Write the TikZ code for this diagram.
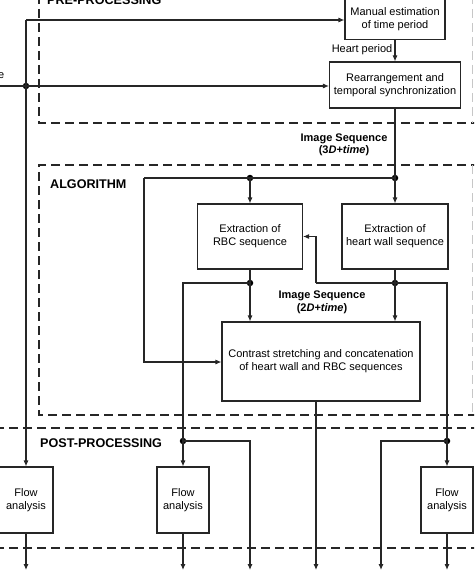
\documentclass[tikz,border=0pt]{standalone}
\usepackage{fontspec}
\setmainfont{Liberation Sans}
\usetikzlibrary{arrows.meta,calc}
\begin{document}
\begin{tikzpicture}[x=1pt,y=-1pt,
  box/.style={draw=black!85, line width=1.05pt, inner sep=0pt, align=center, font=\fontsize{11}{13}\selectfont},
  lbl/.style={inner sep=0pt, align=center, font=\fontsize{11}{12.5}\selectfont\bfseries},
  txt/.style={inner sep=0pt, font=\fontsize{11}{13}\selectfont},
  hdr/.style={inner sep=0pt, anchor=west, font=\fontsize{12.6}{14}\selectfont\bfseries},
  wire/.style={draw=black!85, line width=1.05pt},
  arr/.style={wire, -{Latex[length=6pt,width=5pt]}},
  zone/.style={draw=black!85, line width=1.3pt, dash pattern=on 9pt off 5pt},
  faint/.style={draw=black!22, line width=1pt, dash pattern=on 9pt off 5pt},
  jdot/.style={circle, fill=black, inner sep=0pt, minimum width=5.5pt, minimum height=6.5pt}
]
\useasboundingbox (0,0) rectangle (474,572);
\clip (0,0) rectangle (474,572);

% dashed zones
\draw[zone] (39,-5) -- (39,123) -- (480,123);
\draw[zone] (480,165) -- (39,165) -- (39,415) -- (480,415);
\draw[zone] (-5,428) -- (480,428);
\draw[zone] (-5,548) -- (480,548);
\draw[faint] (472.5,-5) -- (472.5,123);
\draw[faint] (472.5,165) -- (472.5,415);

% headers
\node[hdr] (pre) at (47,0) {PRE-PROCESSING};
\node[hdr] (alg) at (50,184) {ALGORITHM};
\node[hdr] (post) at (40,443.5) {POST-PROCESSING};

% boxes
\node[box, minimum width=100, minimum height=41] (manual) at (395,19) {Manual estimation\\of time period};
\node[box, minimum width=131, minimum height=46] (rearr) at (395,85) {Rearrangement and\\temporal synchronization};
\node[box, minimum width=105, minimum height=65] (rbc) at (250,236.5) {Extraction of\\RBC sequence};
\node[box, minimum width=106, minimum height=65] (heart) at (395,236.5) {Extraction of\\heart wall sequence};
\node[box, minimum width=198, minimum height=79] (contrast) at (321,361.5) {Contrast stretching and concatenation\\of heart wall and RBC sequences};
\node[box, minimum width=54, minimum height=66] (flow1) at (26,500) {Flow\\analysis};
\node[box, minimum width=52, minimum height=66] (flow2) at (183,500) {Flow\\analysis};
\node[box, minimum width=52, minimum height=66] (flow3) at (447,500) {Flow\\analysis};

% labels
\node[lbl] (seq3) at (344,145) {Image Sequence\\(3\textit{D}+\textit{time})};
\node[lbl] (seq2) at (322,302.5) {Image Sequence\\(2\textit{D}+\textit{time})};
\node[txt, anchor=east] (hp) at (392.5,50) {Heart period};
\node[txt, anchor=east] (ein) at (4.5,76) {e};

% coordinates
\coordinate (cTL) at (26,20);
\coordinate (cIn) at (-5,86);
\coordinate (c144t) at (144,178);
\coordinate (c144b) at (144,362);
\coordinate (c183) at (183,283);
\coordinate (c316) at (316,283);
\coordinate (c447) at (447,283);
\coordinate (c250b) at (250,441);
\coordinate (c381) at (381,441);
\coordinate (b26) at (26,570);
\coordinate (b250) at (250,570);
\coordinate (b316) at (316,570);
\coordinate (b381) at (381,570);

% junctions
\node[jdot] (jA) at (26,86) {};
\node[jdot] (jB) at (250,178) {};
\node[jdot] (jC) at (395,178) {};
\node[jdot] (jD) at (250,283) {};
\node[jdot] (jE) at (395,283) {};
\node[jdot] (jF) at (183,441) {};
\node[jdot] (jG) at (447,441) {};

% connectors
\draw[arr] (cTL) -- (cTL -| manual.west);
\draw[arr] (cTL) -- (cTL |- flow1.north);
\draw[arr] (cIn) -- (cIn -| rearr.west);
\draw[arr] (manual.south) -- (rearr.north);
\draw[wire] (rearr.south) -- (jC.center);
\draw[wire] (c144t) -- (jC.center);
\draw[arr] (jB.center) -- (rbc.north);
\draw[arr] (jC.center) -- (heart.north);
\draw[arr] (c144t) -- (c144b) -- (c144b -| contrast.west);
\draw[arr] (rbc.south) -- (rbc.south |- contrast.north);
\draw[arr] (heart.south) -- (heart.south |- contrast.north);
\draw[arr] (jD.center) -- (c183) -- (c183 |- flow2.north);
\draw[arr] (c316) -- (c316 |- rbc.east) -- (rbc.east);
\draw[arr] (c316) -- (c447) -- (c447 |- flow3.north);
\draw[arr] (jF.center) -- (c250b) -- (b250);
\draw[arr] (jG.center) -- (c381) -- (b381);
\draw[arr] (b316 |- contrast.south) -- (b316);
\draw[arr] (flow1.south) -- (b26);
\draw[arr] (flow2.south) -- (flow2.south |- b26);
\draw[arr] (flow3.south) -- (flow3.south |- b26);
\end{tikzpicture}
\end{document}
